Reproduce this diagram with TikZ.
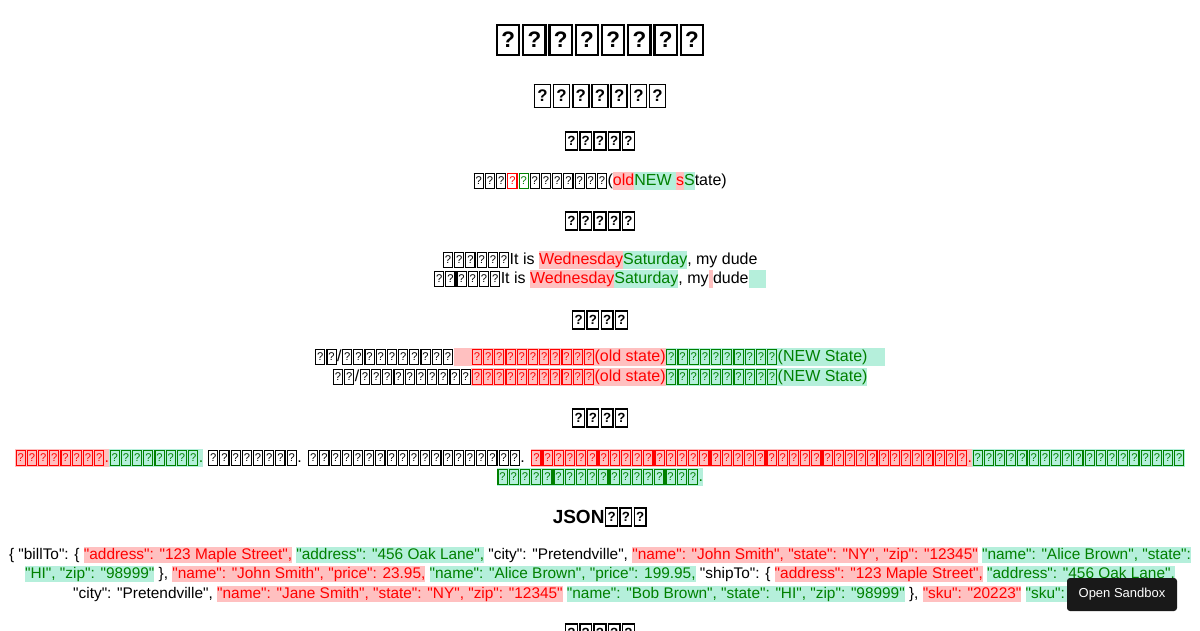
\documentclass[tikz,border=0pt]{standalone}
\usepackage{fontspec}
\usepackage{graphicx}
\setmainfont{Liberation Sans}[Ligatures=TeXOff]
\definecolor{delbg}{HTML}{FFC0C0}
\definecolor{insbg}{HTML}{B5EFDB}
\definecolor{delfg}{HTML}{FF0000}
\definecolor{insfg}{HTML}{008000}
\setlength\fboxsep{0pt}
\def\tfw{0.5em}
\newcommand\tf{{\setlength\fboxrule{0.07em}\kern0.03em\fbox{\makebox[\tfw]{\rule[-0.12em]{0pt}{0.88em}\raisebox{0.08em}{\scalebox{0.7}{?}}}}\kern0.03em}}
\newcommand\tfn[1]{\foreach\i in {1,...,#1}{\tf}}
\newcommand\hs{\rule[-0.25em]{0pt}{1.1em}}
\newcommand\dl[1]{\colorbox{delbg}{\hs\color{delfg}#1}}
\newcommand\ins[1]{\colorbox{insbg}{\hs\color{insfg}#1}}
\newcommand\bodyf{\fontsize{16}{19}\selectfont}
\tikzset{
  h1/.style={font=\fontsize{32}{38}\selectfont\bfseries\def\tfw{0.62em}, inner sep=0},
  h2/.style={font=\fontsize{24}{29}\selectfont\bfseries\def\tfw{0.6em}, inner sep=0},
  h3/.style={font=\fontsize{19}{23}\selectfont\bfseries\def\tfw{0.55em}, inner sep=0},
  bt/.style={font=\bodyf, inner sep=0},
  jt/.style={font=\fontsize{15.4}{19}\selectfont, inner sep=0},
  btn/.style={fill=black!90, rounded corners=3pt, text=white, font=\fontsize{13}{15}\selectfont, minimum width=110pt, minimum height=33pt, inner sep=0}
}
\begin{document}
\begin{tikzpicture}[x=1pt,y=-1pt]
\useasboundingbox[fill=white] (0,0) rectangle (1200,630);
\node[h1] (t1) at (600,40) {\tfn{8}};
\node[h2] (t2) at (600,96) {\tfn{7}};
\node[h3] (t3) at (600,141) {\tfn{5}};
\node[bt] (l1) at (600,181) {\tfn{3}{\color{delfg}\tf}{\color{insfg}\tf}\tfn{7}(\dl{old}\ins{NEW }\dl{s}\ins{S}tate)};
\node[h3] (t4) at (600,221) {\tfn{5}};
\node[bt] (l2) at (600,260) {\tfn{6}It is \dl{Wednesday}\ins{Saturday}, my dude};
\node[bt] (l3) at (600,279) {\tfn{6}It is \dl{Wednesday}\ins{Saturday}, my\dl{\ }dude\ins{\ \ \ \ }};
\node[h3] (t5) at (600,320) {\tfn{4}};
\node[bt] (l4) at (600,357) {\tfn{2}/\tfn{10}\dl{\ \ \ \ \tfn{11}(old state)}\ins{\tfn{10}(NEW State)\ \ \ \ }};
\node[bt] (l5) at (600,377) {\tfn{2}/\tfn{10}\dl{\tfn{11}(old state)}\ins{\tfn{10}(NEW State)}};
\node[h3] (t6) at (600,418) {\tfn{4}};
\node[bt] (p1) at (600,458) {\dl{\tfn{8}.}\ins{\tfn{8}.} \tfn{8}. \tfn{19}. \dl{\tfn{39}.}\ins{\tfn{19}}};
\node[bt] (p2) at (600,477) {\ins{\tfn{18}.}};
\node[h3] (t7) at (600,517) {JSON\tfn{3}};
\node[jt] (j1) at (600,555) {\{ "billTo": \{ \dl{"address": "123 Maple Street",} \ins{"address": "456 Oak Lane",} "city": "Pretendville", \dl{"name": "John Smith", "state": "NY", "zip": "12345"} \ins{"name": "Alice Brown", "state":}};
\node[jt] (j2) at (600,574) {\ins{"HI", "zip": "98999"} \}, \dl{"name": "John Smith", "price": 23.95,} \ins{"name": "Alice Brown", "price": 199.95,} "shipTo": \{ \dl{"address": "123 Maple Street",} \ins{"address": "456 Oak Lane",}};
\node[jt, anchor=west] (j3) at (73,594) {"city": "Pretendville", \dl{"name": "Jane Smith", "state": "NY", "zip": "12345"} \ins{"name": "Bob Brown", "state": "HI", "zip": "98999"} \}, \dl{"sku": "20223"} \ins{"sku": "20233"}};
\node[h3, anchor=north] (t8) at (600,623) {\tfn{5}};
\node[btn] (sb) at (1122,594.5) {Open Sandbox};
\end{tikzpicture}
\end{document}
